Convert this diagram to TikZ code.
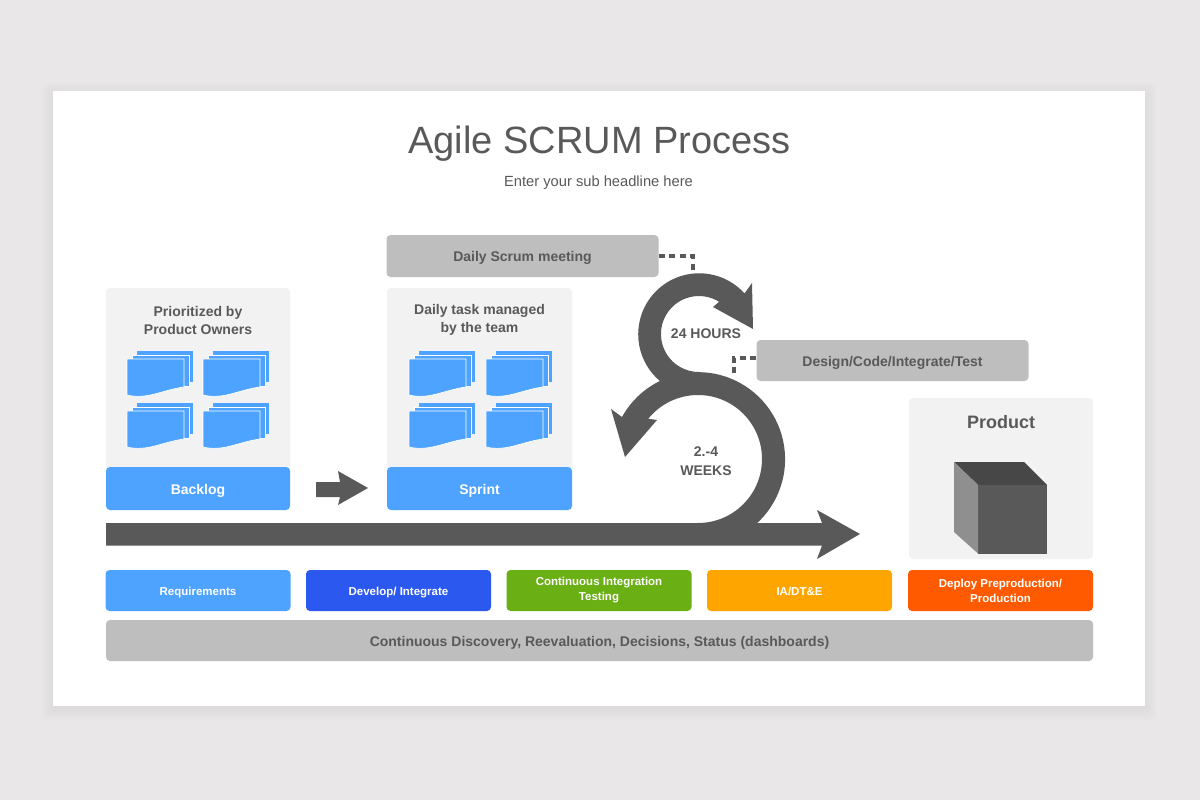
\documentclass[tikz,border=0pt]{standalone}
\usepackage{fontspec}
\setmainfont{Liberation Sans}
\definecolor{pagebg}{HTML}{E9E7E8}
\definecolor{panelbg}{HTML}{F2F2F2}
\definecolor{barblue}{HTML}{4DA3FF}
\definecolor{barnavy}{HTML}{2B58EE}
\definecolor{bargreen}{HTML}{6AB014}
\definecolor{barorange}{HTML}{FFA500}
\definecolor{barred}{HTML}{FF5A00}
\definecolor{bargray}{HTML}{BEBEBE}
\definecolor{arrowgray}{HTML}{595959}
\tikzset{
    panel/.style={fill=panelbg, rounded corners=4pt, inner sep=0pt},
    bar/.style={fill=#1, rounded corners=4pt, inner sep=0pt, minimum width=185pt, minimum height=41pt, text=white, align=center, font=\bfseries\fontsize{11.5}{15}\selectfont},
    oneline/.style={text height=#1, text depth=0pt},
    tagbar/.style={bar=bargray, oneline=11pt, minimum width=272pt, minimum height=42pt, text=arrowgray, font=\bfseries\fontsize{14}{17}\selectfont},
    label/.style={text=arrowgray, align=center, inner sep=0pt, font=\bfseries\fontsize{14}{18}\selectfont},
    dotted link/.style={arrowgray, line width=3.2pt, dash pattern=on 6pt off 4.5pt},
    sheets/.pic={
        \fill[barblue] (10,-8) rectangle (66,23);
        \fill[barblue, draw=white, line width=0.7pt] (5,-4) rectangle (62,27);
        \fill[barblue, draw=white, line width=0.7pt] (0,0) -- (57,0) -- (57,28) .. controls (35,31) and (20,41) .. (0,36) -- cycle;
    }
}
\begin{document}
\begin{tikzpicture}[x=1pt, y=-1pt]
        \fill[pagebg] (0, 0) rectangle (1200, 800);
        \useasboundingbox (0, 0) rectangle (1200, 800);

        % CARD
        \foreach \s in {1,...,12}
            \fill[black, opacity=0.004, rounded corners=6pt] ({53-\s}, {94-\s}) rectangle ({1145+\s}, {709+\s});
        \fill[white] (53, 91) rectangle (1145, 706);

        \node[text=arrowgray, inner sep=0pt, font=\fontsize{38}{46}\selectfont] (title) at (599.5, 143.5) {Agile SCRUM Process};
        \node[text=arrowgray, inner sep=0pt, font=\fontsize{14.7}{18}\selectfont] (subtitle) at (598.5, 182.5) {Enter your sub headline here};

        % PANELS
        \node[panel, minimum width=184pt, minimum height=210pt] (backlogpanel) at (198, 393) {};
        \node[panel, minimum width=185pt, minimum height=210pt] (sprintpanel) at (479.5, 393) {};
        \node[panel, minimum width=184pt, minimum height=161pt] (productpanel) at (1001, 478.5) {};
        \node[label] (backlogtext) at (198, 320) {Prioritized by\\Product Owners};
        \node[label] (sprinttext) at (479.5, 320) {Daily task managed\\by the team};
        \node[label, font=\bfseries\fontsize{18}{22}\selectfont] (producttext) at (1001, 422) {Product};

        % SHEETS
        \foreach \x in {127, 203, 409, 486}
            \foreach \y in {359, 411}
                \pic at (\x, \y) {sheets};

        \node[bar=barblue, oneline=11pt, minimum width=184pt, minimum height=43pt, font=\bfseries\fontsize{14}{17}\selectfont] (backlog) at (198, 488.5) {Backlog};
        \node[bar=barblue, oneline=11pt, minimum height=43pt, font=\bfseries\fontsize{14}{17}\selectfont] (sprint) at (479.5, 488.5) {Sprint};

        % CUBE
        \fill[black!72] (954, 462) -- (1024, 462) -- (1047, 485) -- (978, 485) -- cycle;
        \fill[arrowgray] (978, 485) rectangle (1047, 553.5);
        \fill[black!44] (954, 462) -- (978, 485) -- (978, 553.5) -- (954, 532) -- cycle;

        % ARROWS
        \fill[arrowgray] (316, 482) -- (340, 482) -- (338, 471) -- (368, 488) -- (338, 505) -- (340, 497) -- (316, 497) -- cycle;
        \fill[arrowgray] (106, 523) -- (822, 523) -- (817, 510) -- (860, 534) -- (817, 559) -- (822, 545.5) -- (106, 545.5) -- cycle;

        % 2-4 WEEKS LOOP
        \fill[arrowgray] (698, 523) arc[start angle=90, end angle=-141, radius=64] -- (657, 420) -- (625, 457) -- (611, 409) -- (622, 417) arc[start angle=209, end angle=407, radius=87] -- cycle;
        % 24 HOURS LOOP
        \fill[arrowgray] (660, 381) arc[start angle=130, end angle=318, radius=61] -- (752, 283) -- (753, 329) -- (713, 307) -- (719.1, 301.8) arc[start angle=302, end angle=90, radius=38] -- cycle;

        \coordinate (shorttop) at (693, 273);
        \coordinate (longtop) at (734, 376);

        \node[tagbar] (meeting) at (522.5, 256) {Daily Scrum meeting};
        \node[tagbar, minimum height=41pt] (design) at (892.5, 360.5) {Design/Code/Integrate/Test};
        \draw[dotted link] (meeting.east) -| (shorttop);
        \draw[dotted link] (design.west |- 0, 358) -| (longtop);

        \node[label] (hours) at (706, 333.5) {24 HOURS};
        \node[label, font=\bfseries\fontsize{14}{18.5}\selectfont] (weeks) at (706, 461) {2.-4\\WEEKS};

        % BOTTOM BARS
        \node[bar=barblue, oneline=9pt] (requirements) at (198, 590.5) {Requirements};
        \node[bar=barnavy, oneline=9pt] (develop) at (398.5, 590.5) {Develop/ Integrate};
        \node[bar=bargreen] (testing) at (599, 590.5) {Continuous Integration\\Testing};
        \node[bar=barorange, oneline=9pt] (iadte) at (799.5, 590.5) {IA/DT\&E};
        \node[bar=barred] (deploy) at (1000.5, 590.5) {Deploy Preproduction/\\Production};
        \node[tagbar, minimum width=987pt, minimum height=41pt] (status) at (599.5, 640.5) {Continuous Discovery, Reevaluation, Decisions, Status (dashboards)};
\end{tikzpicture}
\end{document}
